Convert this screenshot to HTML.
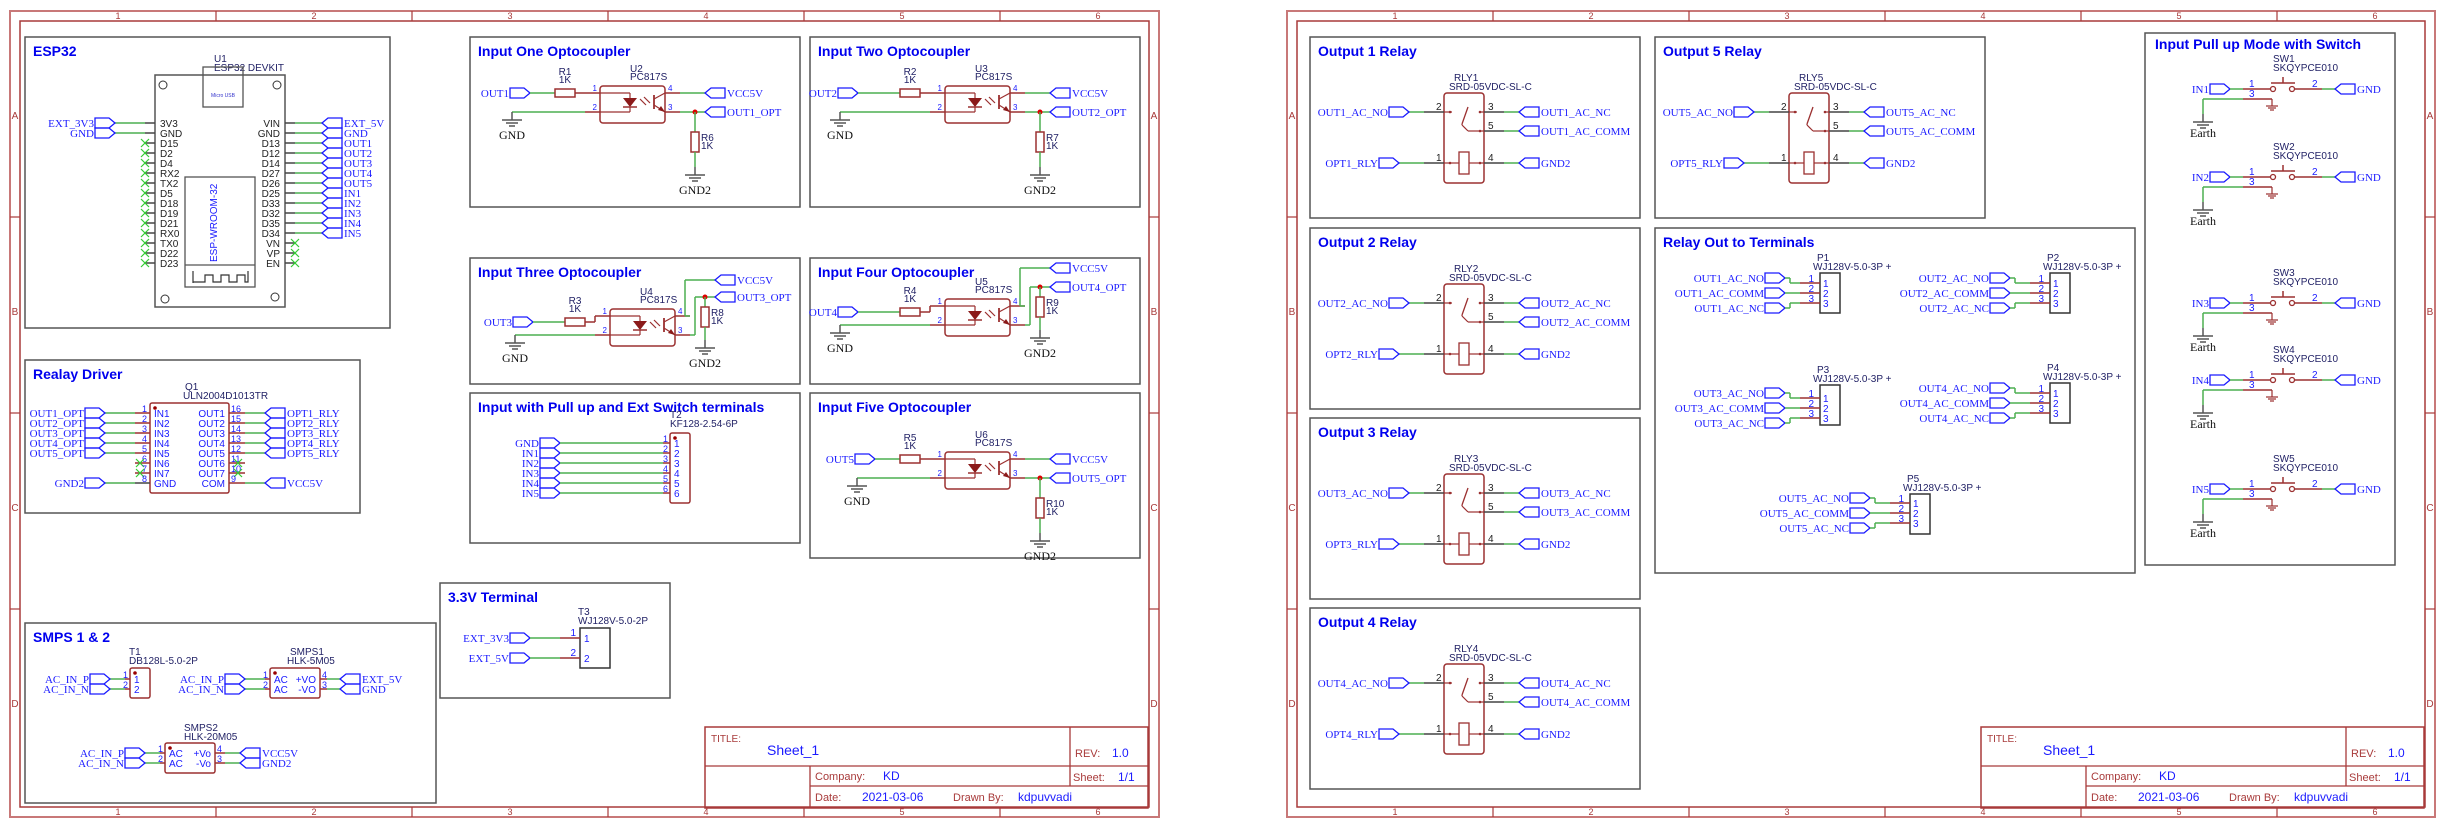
<!DOCTYPE html>
<html><head><meta charset="utf-8">
<style>
html,body{margin:0;padding:0;background:#fff;}
svg{display:block;}
</style></head><body>
<svg id="s" xmlns="http://www.w3.org/2000/svg" width="2446" height="828" viewBox="0 0 2446 828"></svg>
<script>
var o=[];
var FR='#a83a3a', FR2='#c87878', BL='#1a1aff', GR='#4caf50', PR='#9b3030', GY='#555', TX='#222';
function L(x1,y1,x2,y2,c,w){o.push('<line x1="'+x1+'" y1="'+y1+'" x2="'+x2+'" y2="'+y2+'" stroke="'+c+'" stroke-width="'+(w||1.5)+'"/>');}
function R(x,y,w,h,c,sw,rx,fill){o.push('<rect x="'+x+'" y="'+y+'" width="'+w+'" height="'+h+'" fill="'+(fill||'none')+'" stroke="'+c+'" stroke-width="'+(sw||1.5)+'" rx="'+(rx||0)+'"/>');}
function T(x,y,s,txt,c,sz,anc,fam,wt,extra){o.push('<text x="'+x+'" y="'+y+'" fill="'+c+'" font-size="'+sz+'" text-anchor="'+(anc||'start')+'" font-family="'+(fam||'Liberation Sans')+', sans-serif"'+(wt?' font-weight="bold"':'')+(extra||'')+'>'+txt+'</text>');}
function serif(x,y,txt,anc,c){T(x,y,0,txt,c||BL,11,anc,'Liberation Serif');}
function sans(x,y,txt,c,sz,anc){T(x,y,0,txt,c||'#223',sz||9,anc,'Liberation Sans');}
function title(x,y,txt){T(x,y,0,txt,'#0000ee',14,'start','Liberation Sans',1);}
function fR(x,y,lab){o.push('<polygon points="'+x+','+(y-5)+' '+(x+14)+','+(y-5)+' '+(x+20)+','+y+' '+(x+14)+','+(y+5)+' '+x+','+(y+5)+'" fill="none" stroke="'+BL+'" stroke-width="1.3"/>');if(lab)serif(x-1,y+4,lab,'end');}
function fL(x,y,lab){o.push('<polygon points="'+x+','+y+' '+(x+6)+','+(y-5)+' '+(x+20)+','+(y-5)+' '+(x+20)+','+(y+5)+' '+(x+6)+','+(y+5)+'" fill="none" stroke="'+BL+'" stroke-width="1.3"/>');if(lab)serif(x+22,y+4,lab);}
function X(x,y){L(x-4,y-4,x+4,y+4,'#3c3',1.2);L(x-4,y+4,x+4,y-4,'#3c3',1.2);}
function gnd(x,y,lab){L(x,y,x,y+8,GY,1.5);L(x-10,y+8,x+10,y+8,GY,1.5);L(x-6,y+11,x+6,y+11,GY,1.5);L(x-3,y+14,x+3,y+14,GY,1.5);if(lab)T(x,y+27,0,lab,'#111',12,'middle','Liberation Serif');}
function res(x,y,vert){ if(vert)R(x-4,y,8,20,PR,1.5); else R(x,y-4,20,8,PR,1.5);}
function block(x,y,w,h,t){R(x,y,w,h,GY,1.5);if(t)title(x+8,y+19,t);}

function frame(x0,x1){
 R(x0,11,x1-x0,806,FR2,2);R(x0+10,21,x1-x0-20,786,FR,1.5);
 for(var i=0;i<6;i++){var sx=x0+10+196*i+196; if(sx<x1-10){L(sx,11,sx,21,FR,1.2);L(sx,807,sx,817,FR,1.2);}
  var cx=x0+10+98+196*i; if(cx<x1-20){T(cx,19,0,''+(i+1),FR,9,'middle');T(cx,815,0,''+(i+1),FR,9,'middle');}}
 var rows=['A','B','C','D'];
 for(var j=0;j<4;j++){var ry=21+98+196*j;T(x0+5,ry,0,rows[j],FR,10,'middle');T(x1-5,ry,0,rows[j],FR,10,'middle');
  if(j<3){var sy=21+196*(j+1);L(x0,sy,x0+10,sy,FR,1.2);L(x1-10,sy,x1,sy,FR,1.2);}}
 var tx=x1-454;
 R(tx,727,443,81,FR,1.5);L(tx,766,tx+443,766,FR,1.3);L(tx+105,786,tx+443,786,FR,1.3);
 L(tx+365,727,tx+365,786,FR,1.3);L(tx+105,766,tx+105,808,FR,1.3);
 T(tx+6,742,0,'TITLE:',FR,10);T(tx+62,755,0,'Sheet_1',BL,14);
 T(tx+370,757,0,'REV:',FR,11);T(tx+407,757,0,'1.0',BL,12);
 T(tx+110,780,0,'Company:',FR,11);T(tx+178,780,0,'KD',BL,12);
 T(tx+368,781,0,'Sheet:',FR,11);T(tx+413,781,0,'1/1',BL,12);
 T(tx+110,801,0,'Date:',FR,11);T(tx+157,801,0,'2021-03-06',BL,12);T(tx+248,801,0,'Drawn By:',FR,11);T(tx+313,801,0,'kdpuvvadi',BL,12);
}
frame(10,1159);frame(1287,2435);

// ESP32
block(25,37,365,291,'ESP32');
sans(214,62,'U1','#226',10);sans(214,71,'ESP32 DEVKIT','#226',10);
R(155,75,130,232,GY,1.5);R(203,67,40,40,GY,1.3);sans(223,97,'Micro USB','#33c',5,'middle');
o.push('<circle cx="163" cy="85" r="4" fill="none" stroke="#333"/><circle cx="277" cy="85" r="4" fill="none" stroke="#333"/><circle cx="165" cy="299" r="4" fill="none" stroke="#333"/><circle cx="275" cy="297" r="4" fill="none" stroke="#333"/>');
R(185,177,70,110,GY,1.3);L(185,265,255,265,GY,1.2);
o.push('<polyline points="193,283 193,271 193,282 205,282 205,275 213,275 213,282 221,282 221,275 229,275 229,282 237,282 237,275 245,275 245,282 248,282 248,271" fill="none" stroke="#333" stroke-width="1.2"/>');
T(217,262,0,'ESP-WROOM-32',BL,10,'start','Liberation Sans',0,' transform="rotate(-90 217 262)"');
var lp=['3V3','GND','D15','D2','D4','RX2','TX2','D5','D18','D19','D21','RX0','TX0','D22','D23'];
var rp=['VIN','GND','D13','D12','D14','D27','D26','D25','D33','D32','D35','D34','VN','VP','EN'];
var rn=['EXT_5V','GND','OUT1','OUT2','OUT3','OUT4','OUT5','IN1','IN2','IN3','IN4','IN5'];
for(var i=0;i<15;i++){var y=123+10*i;
 L(145,y,155,y,'#444',1.5);sans(160,y+4,lp[i],'#222',10);
 L(285,y,295,y,'#444',1.5);sans(280,y+4,rp[i],'#222',10,'end');
 if(i<2){L(115,y,145,y,GR,1.5);}else X(145,y);
 if(i<12){L(295,y,322,y,GR,1.5);fL(322,y,rn[i]);}else X(295,y);
}
fR(95,123,'EXT_3V3');fR(95,133,'GND');

// Relay driver
block(25,360,335,153,'Realay Driver');
sans(185,390,'Q1','#226',10);sans(183,399,'ULN2004D1013TR','#226',10);
R(150,403,79,90,PR,1.5,2);o.push('<circle cx="155" cy="408" r="1.8" fill="#900"/>');
var qi=['IN1','IN2','IN3','IN4','IN5','IN6','IN7','GND'],qo=['OUT1','OUT2','OUT3','OUT4','OUT5','OUT6','OUT7','COM'];
var qn=['16','15','14','13','12','11','10','9'];
for(var i=0;i<8;i++){var y=413+10*i;
 L(135,y,150,y,i==7?'#444':PR,1.5);L(229,y,245,y,PR,1.5);
 sans(154,y+4,qi[i],BL,10);sans(225,y+4,qo[i],BL,10,'end');
 sans(147,y-1,''+(i+1),BL,9,'end');sans(231,y-1,qn[i],BL,9);
 if(i<5){L(105,y,135,y,GR,1.5);fR(85,y,'OUT'+(i+1)+'_OPT');L(245,y,265,y,GR,1.5);fL(265,y,'OPT'+(i+1)+'_RLY');}
 else if(i<7){X(140,y);X(238,y);}
}
L(105,483,135,483,GR,1.5);fR(85,483,'GND2');L(245,483,265,483,GR,1.5);fL(265,483,'VCC5V');

// SMPS
block(25,623,411,180,'SMPS 1 &amp; 2');
sans(129,655,'T1','#226',10);sans(129,664,'DB128L-5.0-2P','#226',10);
R(130,668,20,30,PR,1.5,2);o.push('<circle cx="135" cy="673" r="1.8" fill="#900"/>');
[679,689].forEach(function(y,i){L(110,y,125,y,GR,1.5);L(125,y,130,y,PR,1.5);fR(90,y,i?'AC_IN_N':'AC_IN_P');sans(134,y+4,''+(i+1),BL,10);sans(128,y-1,''+(i+1),BL,9,'end');});
sans(290,655,'SMPS1','#226',10,'start');sans(287,664,'HLK-5M05','#226',10);
R(270,668,50,30,PR,1.5,2);o.push('<circle cx="275" cy="673" r="1.8" fill="#900"/>');
[679,689].forEach(function(y,i){L(245,y,265,y,GR,1.5);L(265,y,270,y,PR,1.5);fR(225,y,i?'AC_IN_N':'AC_IN_P');sans(274,y+4,'AC',BL,10);sans(316,y+4,i?'-VO':'+VO',BL,10,'end');sans(268,y-1,''+(i+1),BL,9,'end');
 L(320,y,327,y,PR,1.5);L(327,y,340,y,GR,1.5);fL(340,y,i?'GND':'EXT_5V');sans(322,y-1,i?'3':'4',BL,9);});
sans(184,731,'SMPS2','#226',10);sans(184,740,'HLK-20M05','#226',10);
R(165,743,50,30,PR,1.5,2);o.push('<circle cx="170" cy="748" r="1.8" fill="#900"/>');
[753,763].forEach(function(y,i){L(145,y,160,y,GR,1.5);L(160,y,165,y,PR,1.5);fR(125,y,i?'AC_IN_N':'AC_IN_P');sans(169,y+4,'AC',BL,10);sans(211,y+4,i?'-Vo':'+Vo',BL,10,'end');sans(163,y-1,''+(i+1),BL,9,'end');
 L(215,y,225,y,PR,1.5);L(225,y,240,y,GR,1.5);fL(240,y,i?'GND2':'VCC5V');sans(217,y-1,i?'3':'4',BL,9);});

// Optocouplers
function opto(ox,oy,h,t,n,rin,rpd,u,flagX,sx,py,outY,vccY,optY){
 block(ox,oy,330,h,t);
 var x0=ox+sx, oYv=outY||py;
 var fx=ox+flagX;
 fR(fx,oYv,'OUT'+n);
 L(fx+20,oYv,x0+85,oYv,GR,1.5);res(x0+85,oYv,0);
 if(oYv==py){L(x0+105,py,x0+130,py,PR,1.5);}else{L(x0+105,oYv,x0+115,oYv,PR,1.5);L(x0+115,oYv,x0+115,py,PR,1.5);L(x0+115,py,x0+130,py,PR,1.5);}
 sans(x0+95,oYv-18,'R'+rin,'#226',10,'middle');sans(x0+95,oYv-10,'1K','#226',10,'middle');
 var bx=x0+130;
 R(bx,py-7,65,37,PR,1.5,3);
 sans(bx+30,py-21,'U'+u,'#226',10);sans(bx+30,py-13,'PC817S','#226',10);
 sans(bx-3,py-2,'1',BL,8,'end');sans(bx-3,py+17,'2',BL,8,'end');sans(bx+68,py-2,'4',BL,8);sans(bx+68,py+17,'3',BL,8);
 L(bx,py,bx+30,py,PR,1.2);L(bx+30,py,bx+30,py+5,PR,1.2);
 o.push('<polygon points="'+(bx+23)+','+(py+5)+' '+(bx+37)+','+(py+5)+' '+(bx+30)+','+(py+14)+'" fill="#8b1a1a"/>');
 L(bx+23,py+14,bx+37,py+14,PR,1.5);L(bx+30,py+14,bx+30,py+19,PR,1.2);L(bx,py+19,bx+30,py+19,PR,1.2);
 L(bx+40,py+6,bx+46,py+12,PR,1.2);L(bx+44,py+4,bx+50,py+10,PR,1.2);
 L(bx+54,py+2,bx+54,py+16,PR,1.8);L(bx+54,py+6,bx+65,py,PR,1.2);L(bx+54,py+12,bx+65,py+19,PR,1.2);
 o.push('<polygon points="'+(bx+65)+','+(py+19)+' '+(bx+58)+','+(py+17)+' '+(bx+61)+','+(py+13)+'" fill="#8b1a1a"/>');
 var vY=vccY||py, pY=optY||(py+19);
 L(bx+65,py,bx+80,py,PR,1.5);
 if(vY==py){L(bx+80,py,x0+235,py,GR,1.5);}else{L(bx+80,py,x0+205,py,GR,1.5);L(x0+205,py,x0+205,vY,GR,1.5);L(x0+205,vY,x0+235,vY,GR,1.5);}
 fL(x0+235,vY,'VCC5V');
 L(bx+65,py+19,bx+80,py+19,PR,1.5);
 if(pY==py+19){L(bx+80,py+19,x0+235,py+19,GR,1.5);}else{L(bx+80,py+19,x0+215,py+19,GR,1.5);L(x0+215,py+19,x0+215,pY,GR,1.5);L(x0+215,pY,x0+235,pY,GR,1.5);}
 fL(x0+235,pY,'OUT'+n+'_OPT');
 o.push('<circle cx="'+(x0+225)+'" cy="'+pY+'" r="2.5" fill="#d00"/>');
 var gx=ox+flagX+2;
 L(gx,py+19,bx-15,py+19,GR,1.5);L(bx-15,py+19,bx,py+19,PR,1.5);
 gnd(gx,py+19,'GND');
 var rt=pY+(optY?10:20), gy=rt+(optY?33:35);
 L(x0+225,pY,x0+225,rt,GR,1.5);res(x0+225,rt,1);L(x0+225,rt+20,x0+225,gy,GR,1.5);
 sans(x0+231,rt+9,'R'+rpd,'#226',10);sans(x0+231,rt+17,'1K','#226',10);
 gnd(x0+225,gy,'GND2');
}
opto(470,37,170,'Input One Optocoupler',1,1,6,2,40,0,93);
opto(810,37,170,'Input Two Optocoupler',2,2,7,3,28,5,93);
opto(470,258,126,'Input Three Optocoupler',3,3,8,4,43,10,316,322,280,297);
opto(810,258,126,'Input Four Optocoupler',4,4,9,5,28,5,306,312,268,287);
opto(810,393,165,'Input Five Optocoupler',5,5,10,6,45,5,459);

// Input with pull up terminal
block(470,393,330,150,'Input with Pull up and Ext Switch terminals');
sans(670,418,'T2','#226',10);sans(670,427,'KF128-2.54-6P','#226',10);
R(670,433,20,70,PR,1.5,2);o.push('<circle cx="675" cy="438" r="1.8" fill="#900"/>');
var tn=['GND','IN1','IN2','IN3','IN4','IN5'];
for(var i=0;i<6;i++){var y=443+10*i;fR(540,y,tn[i]);L(560,y,663,y,GR,1.5);L(663,y,670,y,PR,1.5);sans(668,y-1,''+(i+1),BL,9,'end');sans(674,y+4,''+(i+1),BL,10);}

// 3.3V terminal
block(440,583,230,115,'3.3V Terminal');
sans(578,615,'T3','#226',10);sans(578,624,'WJ128V-5.0-2P','#226',10);
R(580,628,30,40,'#333',1.5);
[638,658].forEach(function(y,i){fR(510,y,i?'EXT_5V':'EXT_3V3');L(530,y,560,y,GR,1.5);L(560,y,580,y,PR,1.5);sans(576,y-2,''+(i+1),BL,10,'end');sans(584,y+4,''+(i+1),BL,10);});

// Relays
function relay(ox,oy,t,n,k){
 block(ox,oy,330,181,t);
 var bx=ox+134,by=oy+56;
 sans(bx+10,oy+44,'RLY'+k,'#226',10);sans(bx+5,oy+53,'SRD-05VDC-SL-C','#226',10);
 R(bx,by,40,90,PR,1.5,3);
 var y2=oy+75,y5=oy+94,y1=oy+126;
 L(bx-20,y2,bx,y2,'#444',1.5);L(bx-35,y2,bx-20,y2,GR,1.5);fR(bx-55,y2,'OUT'+n+'_AC_NO');sans(bx-8,y2-2,'2','#222',10);
 L(bx-20,y1,bx,y1,'#444',1.5);L(bx-45,y1,bx-20,y1,GR,1.5);fR(bx-65,y1,'OPT'+n+'_RLY');sans(bx-8,y1-2,'1','#222',10);
 [[y2,'3','OUT'+n+'_AC_NC'],[y5,'5','OUT'+n+'_AC_COMM'],[y1,'4','GND2']].forEach(function(a){L(bx+40,a[0],bx+60,a[0],'#444',1.5);L(bx+60,a[0],bx+75,a[0],GR,1.5);fL(bx+75,a[0],a[2]);sans(bx+44,a[0]-2,a[1],'#222',10);});
 L(bx,y2,bx+8,y2,PR,1.2);o.push('<circle cx="'+(bx+6)+'" cy="'+y2+'" r="1.3" fill="'+PR+'"/><circle cx="'+(bx+36)+'" cy="'+y2+'" r="1.3" fill="'+PR+'"/><circle cx="'+(bx+36)+'" cy="'+y5+'" r="1.3" fill="'+PR+'"/>');
 L(bx+36,y2,bx+40,y2,PR,1.2);L(bx+24,y2-5,bx+18,y2+12,PR,1.3);L(bx+18,y2+12,bx+18,y5-6,PR,1.2);L(bx+18,y5-6,bx+24,y5,PR,1.2);L(bx+24,y5,bx+40,y5,PR,1.2);
 R(bx+15,y1-11,10,22,PR,1.3);L(bx,y1,bx+15,y1,PR,1.2);L(bx+25,y1,bx+40,y1,PR,1.2);
 o.push('<circle cx="'+(bx+6)+'" cy="'+y1+'" r="1.3" fill="'+PR+'"/><circle cx="'+(bx+36)+'" cy="'+y1+'" r="1.3" fill="'+PR+'"/>');
}
relay(1310,37,'Output 1 Relay',1,1);
relay(1655,37,'Output 5 Relay',5,5);
relay(1310,228,'Output 2 Relay',2,2);
relay(1310,418,'Output 3 Relay',3,3);
relay(1310,608,'Output 4 Relay',4,4);

// Relay out to terminals
block(1655,228,480,345,'Relay Out to Terminals');
function term(bx,top,rows,flags,fx,n,p){
 sans(bx-3,top-12,'P'+p,'#226',10);sans(bx-7,top-3,'WJ128V-5.0-3P +','#226',10);
 R(bx,top,20,40,'#333',1.5);
 var labs=['OUT'+n+'_AC_NO','OUT'+n+'_AC_COMM','OUT'+n+'_AC_NC'];
 for(var i=0;i<3;i++){fR(fx,flags[i],labs[i]);var mx=fx+25;
  L(fx+20,flags[i],mx,flags[i],GR,1.5);L(mx,flags[i],mx,rows[i],GR,1.5);L(mx,rows[i],bx-20,rows[i],GR,1.5);L(bx-20,rows[i],bx,rows[i],PR,1.5);
  sans(bx-6,rows[i]-1,''+(i+1),BL,10,'end');sans(bx+3,rows[i]+4,''+(i+1),BL,10);}
}
term(1820,273,[283,293,303],[278,293,308],1765,1,1);
term(2050,273,[283,293,303],[278,293,308],1990,2,2);
term(1820,385,[398,408,418],[393,408,423],1765,3,3);
term(2050,383,[393,403,413],[388,403,418],1990,4,4);
term(1910,494,[503,513,523],[498,513,528],1850,5,5);

// Pull-up switches
block(2145,33,250,532,'');
T(2155,49,0,'Input Pull up Mode with Switch','#0000ee',14,'start','Liberation Sans',1);
[89,177,303,380,489].forEach(function(y,i){
 sans(2273,y-27,'SW'+(i+1),'#226',10);sans(2273,y-18,'SKQYPCE010','#226',10);
 fR(2210,y,'IN'+(i+1));L(2230,y,2243,y,GR,1.5);L(2243,y,2270,y,PR,1.5);
 o.push('<circle cx="2273" cy="'+y+'" r="2.5" fill="none" stroke="'+PR+'" stroke-width="1.3"/><circle cx="2292" cy="'+y+'" r="2.5" fill="none" stroke="'+PR+'" stroke-width="1.3"/>');
 L(2271,y-6,2295,y-6,PR,1.5);L(2283,y-12,2283,y-6,PR,1.5);
 L(2295,y,2322,y,PR,1.5);L(2322,y,2335,y,GR,1.5);fL(2335,y,'GND');
 sans(2249,y-2,'1',BL,10);sans(2312,y-2,'2',BL,10);sans(2249,y+8,'3',BL,10);
 L(2243,y+10,2272,y+10,PR,1.5);L(2272,y+10,2272,y+17,PR,1.2);L(2266,y+17,2278,y+17,PR,1.2);L(2268,y+19,2276,y+19,PR,1.2);L(2270,y+21,2274,y+21,PR,1.2);
 L(2203,y+10,2243,y+10,GR,1.5);L(2203,y+10,2203,y+25,GR,1.5);gnd(2203,y+25,'');T(2203,y+48,0,'Earth','#111',12,'middle','Liberation Serif');
});

document.getElementById('s').innerHTML=o.join('');
</script>
</body></html>
